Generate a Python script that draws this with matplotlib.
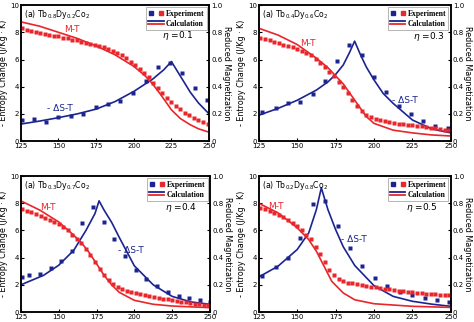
import matplotlib
matplotlib.use('Agg')
import numpy as np
import matplotlib.pyplot as plt
from matplotlib.lines import Line2D
from matplotlib.legend_handler import HandlerBase, HandlerTuple

BLUE = '#1c2490'
RED = '#e8262b'

# ---- data ----
titles = [r'(a) Tb$_{0.8}$Dy$_{0.2}$Co$_2$', r'(a) Tb$_{0.4}$Dy$_{0.6}$Co$_2$',
          r'(a) Tb$_{0.3}$Dy$_{0.7}$Co$_2$', r'(a) Tb$_{0.2}$Dy$_{0.8}$Co$_2$']
etas = ['0.1', '0.3', '0.4', '0.5']

# experimental -dS (blue squares)
t_ds1 = [126, 134, 142, 150, 158, 166, 175, 183, 191, 199.6, 208, 216, 224, 232, 240.5, 248.7]
ds1 = [1.52, 1.6, 1.42, 1.76, 1.86, 1.98, 2.52, 2.7, 2.97, 3.55, 4.41, 5.42, 5.76, 4.98, 3.92, 3.01]
t_ds2 = [127, 136, 144, 152, 160, 168, 176, 184, 192, 200, 208, 216, 224, 232, 240, 248]
ds2 = [2.15, 2.45, 2.77, 2.87, 3.43, 4.39, 5.88, 7.1, 6.3, 4.73, 3.58, 2.55, 1.96, 1.47, 1.13, 0.96]
t_ds3 = [125.7, 130.7, 137.8, 144.8, 151.6, 158.7, 165.7, 173, 180, 186.8, 193.9, 201, 208, 215, 222,
         229.3, 236.4, 243.4, 250]
ds3 = [2.58, 2.7, 2.83, 3.24, 3.78, 4.5, 6.56, 7.74, 6.66, 5.36, 4.13, 3.12, 2.46, 1.89, 1.47,
       1.15, 1.06, 0.91, 0.74]
t_ds4 = [127.4, 136, 143.9, 152, 160.2, 168, 176.3, 184.3, 192.4, 200.6, 208.7, 217, 225, 233, 241.3, 249]
ds4 = [2.68, 3.29, 3.98, 5.45, 7.96, 8.2, 6.36, 4.72, 3.42, 2.53, 1.92, 1.5, 1.23, 1.06, 0.86, 0.74]

# experimental M (red squares), one every 3 K
t_m = np.arange(126, 250, 3)
m1 = [.83, .82, .81, .80, .795, .79, .78, .775, .77, .76, .755, .745, .74, .73, .725, .715, .705, .70,
      .69, .68, .665, .65, .63, .61, .585, .56, .53, .50, .47, .43, .39, .355, .32, .29, .26, .235,
      .21, .19, .17, .155, .14, .125]
m2 = [.76, .75, .74, .73, .72, .71, .70, .69, .68, .665, .65, .63, .605, .575, .545, .51, .475, .435,
      .395, .35, .30, .255, .22, .195, .175, .163, .153, .145, .138, .132, .127, .123, .12, .117,
      .113, .108, .103, .098, .093, .088, .084, .08]
m3 = [.755, .745, .735, .72, .71, .695, .68, .665, .645, .625, .60, .57, .54, .505, .465, .42, .37,
      .32, .275, .235, .205, .185, .17, .158, .148, .14, .132, .125, .118, .112, .105, .099, .093,
      .087, .082, .077, .072, .067, .062, .058, .054, .05]
m4 = [.765, .755, .745, .73, .715, .70, .68, .655, .63, .60, .57, .535, .48, .425, .365, .31, .27,
      .245, .228, .217, .21, .203, .197, .192, .187, .182, .177, .172, .167, .162, .157, .153, .149,
      .145, .141, .138, .135, .132, .129, .127, .125, .123]

# calculated -dS (blue lines)
tc_ds1 = [125, 137.5, 150, 162.5, 175, 187.5, 200, 212.5, 220, 225, 230, 237.5, 243, 250]
c_ds1 = [1.25, 1.47, 1.72, 2.0, 2.35, 2.9, 3.65, 4.55, 5.25, 5.85, 4.95, 3.6, 2.8, 2.0]
tc_ds2 = [125, 137.5, 150, 162.5, 170, 175, 180, 184, 187.4, 191, 195, 200, 206, 212.5, 225, 237.5, 250]
c_ds2 = [1.9, 2.4, 3.0, 3.75, 4.35, 4.9, 5.6, 6.5, 7.35, 6.4, 5.45, 4.5, 3.5, 2.77, 1.55, 0.9, 0.6]
tc_ds3 = [125, 140, 150, 160, 168, 174, 176.7, 180, 185, 190, 200, 212.5, 225, 237.5, 250]
c_ds3 = [2.0, 2.7, 3.44, 4.55, 6.0, 7.25, 8.18, 7.5, 6.6, 5.5, 3.4, 2.0, 1.15, 0.74, 0.57]
tc_ds4 = [125, 137.5, 150, 157.5, 162.5, 165.7, 170, 175, 180, 187.5, 200, 212.5, 225, 237.5, 250]
c_ds4 = [2.58, 3.37, 4.6, 5.82, 7.54, 9.14, 7.54, 6.07, 4.8, 3.42, 1.94, 1.15, 0.79, 0.58, 0.42]

# calculated M (red lines)
tc_m1 = [125, 137.5, 150, 162.5, 175, 187.5, 200, 207.5, 212.5, 218, 225, 231, 237.5, 243, 250]
c_m1 = [.877, .845, .80, .755, .70, .635, .55, .48, .42, .34, .23, .165, .12, .09, .065]
tc_m2 = [125, 137.5, 150, 162.5, 170, 175, 180, 185, 190, 195, 200, 212.5, 225, 237.5, 250]
c_m2 = [.83, .78, .71, .61, .54, .48, .42, .34, .26, .18, .13, .08, .06, .045, .037]
tc_m3 = [125, 137.5, 150, 160, 165, 170, 175, 180, 185, 190, 200, 212.5, 225, 250]
c_m3 = [.818, .75, .663, .565, .51, .44, .356, .27, .20, .145, .086, .057, .044, .032]
tc_m4 = [125, 137.5, 150, 157.5, 162.5, 167.5, 172.5, 180, 187.5, 200, 225, 250]
c_m4 = [.80, .73, .62, .533, .447, .337, .226, .14, .09, .061, .042, .034]

panels = [
    (t_ds1, ds1, m1, tc_ds1, c_ds1, tc_m1, c_m1),
    (t_ds2, ds2, m2, tc_ds2, c_ds2, tc_m2, c_m2),
    (t_ds3, ds3, m3, tc_ds3, c_ds3, tc_m3, c_m3),
    (t_ds4, ds4, m4, tc_ds4, c_ds4, tc_m4, c_m4),
]
# label positions (x, y on left axis)
mt_pos = [(159, 8.2), (157, 7.2), (143, 7.7), (136, 7.8)]
ds_pos = [(151, 2.4), (220, 3.0), (198, 4.5), (187, 5.3)]
eta_pos = [(229, 7.8), (236, 7.7), (231, 7.7), (231, 7.7)]

boxes = [
    [0.044, 0.562, 0.397, 0.422],
    [0.546, 0.562, 0.405, 0.422],
    [0.044, 0.031, 0.399, 0.422],
    [0.546, 0.031, 0.405, 0.422],
]


class DoubleLine(HandlerBase):
    def create_artists(self, legend, orig_handle, xdescent, ydescent, width, height, fontsize, trans):
        l1 = Line2D([-xdescent, width - xdescent], [0.75 * height, 0.75 * height], color=BLUE, lw=1.3)
        l2 = Line2D([-xdescent, width - xdescent], [0.25 * height, 0.25 * height], color=RED, lw=1.3)
        l1.set_transform(trans)
        l2.set_transform(trans)
        return [l1, l2]


fig = plt.figure(figsize=(4.74, 3.22), dpi=100)

for i, (t_ds, ds, m, tc_ds, c_ds, tc_m, c_m) in enumerate(panels):
    ax = fig.add_axes(boxes[i])
    ax2 = ax.twinx()

    ax.plot(tc_ds, c_ds, color=BLUE, lw=1.2)
    ax.plot(t_ds, ds, 's', color=BLUE, ms=2.6, mec='none')
    ax2.plot(tc_m, c_m, color=RED, lw=1.2)
    ax2.plot(t_m, m, 's', color=RED, ms=2.6, mec='none')

    ax.set_xlim(125, 250)
    ax.set_ylim(0, 10)
    ax2.set_ylim(0, 1)
    ax.set_xticks([125, 150, 175, 200, 225, 250])
    ax.set_yticks([0, 2, 4, 6, 8, 10])
    ax2.set_yticks([0, 0.2, 0.4, 0.6, 0.8, 1.0])
    ax2.set_yticklabels(['0', '0.2', '0.4', '0.6', '0.8', '1.0'])
    for a in (ax, ax2):
        a.tick_params(direction='in', labelsize=5, length=2.5, width=0.8, pad=1.5)
        for s in a.spines.values():
            s.set_linewidth(1.1)

    ax.set_ylabel('- Entropy Change (J/Kg · K)', fontsize=5.8, labelpad=1)
    ax2.set_ylabel('Reduced Magnetization', fontsize=5.8, rotation=270, labelpad=6)

    ax.text(0.015, 0.93, titles[i], transform=ax.transAxes, fontsize=5.6, va='center')
    ax.text(*mt_pos[i], 'M-T', color=RED, fontsize=6.5, ha='center', va='center')
    ax.text(*ds_pos[i], '- ΔS-T', color=BLUE, fontsize=6.5, ha='center', va='center')
    ax.text(*eta_pos[i], r'$\eta$ =' + etas[i], fontsize=6.5, ha='center', va='center')

    exp_h = (Line2D([], [], marker='s', ls='none', color=BLUE, ms=2.4),
             Line2D([], [], marker='s', ls='none', color=RED, ms=2.4))
    calc_h = object()
    leg = ax.legend([exp_h, calc_h], ['Experiment', 'Calculation'],
                    handler_map={tuple: HandlerTuple(ndivide=None, pad=0.6), type(calc_h): DoubleLine()},
                    loc='upper right', handlelength=2.0, handleheight=0.8,
                    borderpad=0.3, labelspacing=0.25, handletextpad=0.3,
                    fancybox=False, framealpha=1, edgecolor='#999999',
                    borderaxespad=0.3, prop={'family': 'Liberation Serif', 'weight': 'bold', 'size': 5.5})
    leg.get_frame().set_linewidth(0.5)

fig.savefig('out.png', dpi=100)
